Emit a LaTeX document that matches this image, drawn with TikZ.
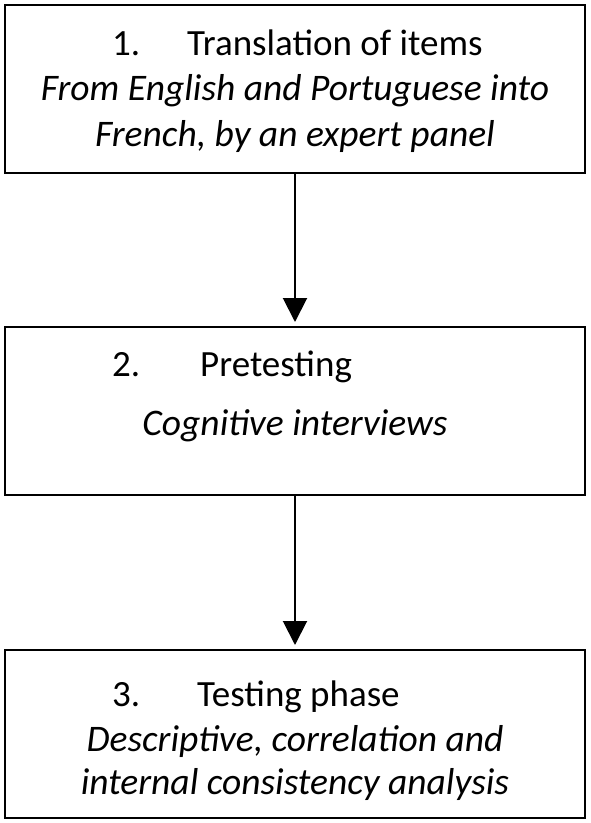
\documentclass[tikz,border=0pt]{standalone}
\usepackage{fontspec}
\setmainfont{Carlito}
\usetikzlibrary{positioning,arrows.meta}

\begin{document}
\begin{tikzpicture}[x=1pt, y=-1pt,
  stepbox/.style = {draw, line width=2.5pt, outer sep=0pt, minimum width=580pt, minimum height=168pt},
  stepnum/.style = {anchor=base west, inner sep=0pt, font=\fontsize{37}{45}\selectfont},
  steptitle/.style = {stepnum},
  stepnote/.style = {anchor=base, inner sep=0pt, font=\fontsize{37.5}{45}\selectfont\itshape},
  flow/.style = {-{Triangle[width=24pt,length=24pt]}, line width=2pt, shorten >=5pt},
  ]
  \useasboundingbox (0,0) rectangle (591,823);
  \node[stepbox] (translation) at (295,89) {};
  \node[stepbox, below=154pt of translation] (pretesting) {};
  \node[stepbox, below=155pt of pretesting] (testing) {};

  \node[stepnum] (num1) at ([shift={(107,50)}]translation.north west) {1.};
  \node[steptitle] (title1) at ([shift={(182,50)}]translation.north west) {Translation of items};
  \node[stepnote] (note1a) at ([yshift=-95pt]translation.north) {From English and Portuguese into};
  \node[stepnote] (note1b) at ([yshift=-141pt]translation.north) {French, by an expert panel};

  \node[stepnum] (num2) at ([shift={(107,49)}]pretesting.north west) {2.};
  \node[steptitle] (title2) at ([shift={(195,49)}]pretesting.north west) {Pretesting};
  \node[stepnote] (note2) at ([yshift=-108pt]pretesting.north) {Cognitive interviews};

  \node[stepnum] (num3) at ([shift={(107,56)}]testing.north west) {3.};
  \node[steptitle] (title3) at ([shift={(192,56)}]testing.north west) {Testing phase};
  \node[stepnote] (note3a) at ([yshift=-101pt]testing.north) {Descriptive, correlation and};
  \node[stepnote] (note3b) at ([yshift=-144pt]testing.north) {internal consistency analysis};

  \draw[flow] (translation.south) -- (pretesting.north);
  \draw[flow] (pretesting.south) -- (testing.north);
\end{tikzpicture}
\end{document}
